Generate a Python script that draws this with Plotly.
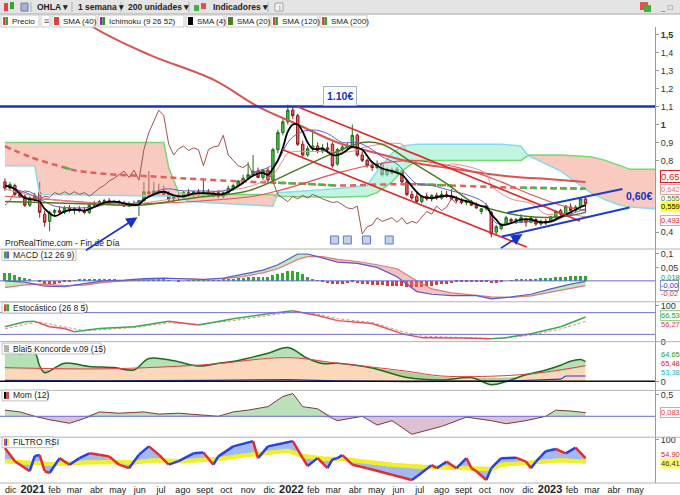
import pandas as pd
import plotly.graph_objects as go
from plotly.subplots import make_subplots

# ---------------- data ----------------
first_week = "2020-11-23"
x_start, x_end = "2020-11-16", "2023-05-29"

op = [0.68,0.645,0.66,0.61,0.60,0.55,0.59,0.62,0.50,0.46,
      0.51,0.52,0.51,0.535,0.52,0.53,0.52,0.51,0.55,0.565,
      0.57,0.575,0.565,0.57,0.56,0.545,0.56,0.55,0.575,0.625,
      0.615,0.63,0.625,0.61,0.585,0.60,0.595,0.62,0.61,0.625,
      0.61,0.625,0.61,0.62,0.60,0.62,0.645,0.66,0.685,0.70,
      0.72,0.74,0.705,0.745,0.69,0.86,0.955,1.015,1.08,1.05,
      0.89,0.83,0.865,0.88,0.855,0.87,0.89,0.78,0.86,0.875,
      0.88,0.94,0.83,0.80,0.77,0.76,0.78,0.72,0.745,0.73,
      0.74,0.68,0.61,0.60,0.57,0.60,0.585,0.605,0.59,0.61,
      0.60,0.585,0.575,0.565,0.57,0.55,0.515,0.53,0.51,0.40,
      0.42,0.445,0.47,0.46,0.455,0.47,0.455,0.47,0.445,0.46,
      0.46,0.48,0.52,0.50,0.54,0.52,0.54,0.585]
hi = [0.70,0.68,0.67,0.63,0.61,0.60,0.62,0.68,0.52,0.52,
      0.53,0.545,0.545,0.55,0.54,0.545,0.54,0.56,0.575,0.58,
      0.585,0.59,0.58,0.58,0.575,0.57,0.575,0.58,0.68,0.74,
      0.68,0.67,0.66,0.63,0.61,0.62,0.63,0.64,0.63,0.64,
      0.69,0.64,0.63,0.635,0.625,0.66,0.67,0.69,0.72,0.79,
      0.83,0.76,0.75,0.76,0.87,0.97,1.03,1.11,1.10,1.06,
      0.91,0.88,0.97,0.90,0.89,0.90,0.90,0.87,0.89,0.90,
      1.00,0.95,0.85,0.81,0.79,0.80,0.79,0.76,0.76,0.765,
      0.75,0.69,0.63,0.62,0.605,0.62,0.61,0.62,0.63,0.63,
      0.64,0.60,0.59,0.58,0.58,0.565,0.535,0.56,0.52,0.44,
      0.45,0.49,0.48,0.48,0.50,0.48,0.485,0.48,0.47,0.475,
      0.49,0.52,0.53,0.55,0.56,0.55,0.59,0.60]
lo = [0.63,0.63,0.60,0.59,0.54,0.54,0.57,0.48,0.43,0.405,
      0.49,0.50,0.50,0.51,0.50,0.51,0.50,0.50,0.54,0.55,
      0.555,0.56,0.55,0.55,0.54,0.54,0.545,0.49,0.57,0.60,
      0.60,0.61,0.60,0.57,0.57,0.58,0.59,0.60,0.595,0.60,
      0.60,0.60,0.595,0.59,0.59,0.61,0.63,0.65,0.68,0.69,
      0.71,0.70,0.69,0.67,0.68,0.84,0.94,1.00,1.03,0.88,
      0.82,0.82,0.85,0.84,0.84,0.84,0.76,0.77,0.85,0.86,
      0.87,0.82,0.79,0.76,0.74,0.75,0.71,0.71,0.72,0.72,
      0.67,0.60,0.58,0.56,0.56,0.575,0.57,0.58,0.58,0.59,
      0.58,0.565,0.555,0.55,0.545,0.53,0.50,0.52,0.37,0.38,
      0.41,0.44,0.445,0.445,0.45,0.43,0.45,0.435,0.435,0.44,
      0.455,0.475,0.49,0.49,0.51,0.51,0.53,0.51]
cl = [0.645,0.665,0.61,0.60,0.55,0.59,0.60,0.51,0.455,0.51,
      0.52,0.51,0.535,0.52,0.53,0.52,0.51,0.55,0.565,0.57,
      0.575,0.565,0.57,0.56,0.545,0.56,0.55,0.575,0.625,0.615,
      0.63,0.625,0.61,0.585,0.60,0.595,0.62,0.61,0.625,0.61,
      0.625,0.61,0.62,0.60,0.62,0.645,0.66,0.685,0.70,0.72,
      0.74,0.705,0.745,0.69,0.86,0.955,1.015,1.08,1.05,0.89,
      0.83,0.865,0.88,0.855,0.87,0.86,0.77,0.86,0.875,0.88,
      0.94,0.83,0.80,0.77,0.76,0.78,0.72,0.745,0.73,0.75,
      0.68,0.61,0.59,0.57,0.60,0.585,0.605,0.59,0.61,0.60,
      0.585,0.575,0.565,0.57,0.55,0.535,0.53,0.545,0.39,0.43,
      0.44,0.48,0.46,0.47,0.48,0.455,0.48,0.445,0.46,0.45,
      0.485,0.515,0.50,0.545,0.52,0.54,0.585,0.558]

# Ichimoku cloud (week index, span A, span B)
cloud_w = [0,6,7,32,33,35,37,54,55,66,73,75,78,80,83,100,104,105,106,112,118,121,124,126,131]
span_a = [0.77,0.77,0.61,0.60,0.60,0.60,0.57,0.545,0.62,0.64,0.66,0.74,0.84,0.88,0.89,0.89,0.88,0.84,0.82,0.74,0.62,0.58,0.55,0.54,0.53]
span_b = [0.90,0.90,0.90,0.90,0.76,0.62,0.61,0.61,0.60,0.595,0.60,0.62,0.68,0.74,0.80,0.80,0.80,0.82,0.83,0.83,0.82,0.80,0.77,0.75,0.75]
tenkan_w = [0,6,8,10,14,18,22,26,28,32,36,40,44,48,50,53,55,57,59,62,65,68,71,74,76,79,81,83,86,90,94,97,99,102,106,110,113,116,117]
tenkan_v = [0.66,0.60,0.57,0.545,0.535,0.54,0.565,0.56,0.585,0.64,0.63,0.63,0.63,0.67,0.73,0.76,0.80,0.90,0.95,0.97,0.95,0.90,0.90,0.86,0.82,0.78,0.72,0.67,0.66,0.63,0.60,0.555,0.45,0.45,0.46,0.455,0.49,0.52,0.53]
kijun_w = [0,10,20,27,30,40,50,54,56,57,62,70,72,76,80,81,83,85,88,90,97,98,102,106,109,112,117]
kijun_v = [0.64,0.58,0.56,0.56,0.57,0.615,0.66,0.72,0.80,0.84,0.85,0.85,0.87,0.89,0.89,0.855,0.835,0.81,0.765,0.78,0.725,0.66,0.585,0.56,0.50,0.505,0.485]
chikou_shift = 26

sma4_w = [0,2,4,6,7,8,10,12,14,16,18,20,22,24,26,27,28,30,32,34,36,38,40,42,44,46,48,50,52,53,54,55,56,57,58,59,60,61,62,64,66,67,68,70,71,72,74,76,78,80,81,82,84,86,88,90,92,94,96,97,98,99,100,102,104,106,108,110,112,114,116,117]
sma4_v = [0.66,0.64,0.59,0.58,0.57,0.53,0.49,0.515,0.525,0.52,0.54,0.565,0.57,0.56,0.55,0.555,0.58,0.61,0.625,0.605,0.60,0.615,0.617,0.614,0.612,0.64,0.675,0.715,0.73,0.72,0.755,0.80,0.87,0.96,1.00,1.00,0.96,0.90,0.865,0.865,0.83,0.83,0.84,0.875,0.87,0.86,0.79,0.755,0.74,0.72,0.69,0.655,0.60,0.59,0.60,0.60,0.58,0.565,0.545,0.54,0.50,0.47,0.44,0.45,0.47,0.47,0.455,0.46,0.485,0.51,0.54,0.55]
sma20_w = [0,19,27,39,49,59,67,72,76,82,89,94,99,106,112,117]
sma20_v = [0.57,0.555,0.55,0.595,0.63,0.75,0.85,0.90,0.89,0.79,0.67,0.57,0.52,0.485,0.485,0.51]
sma40_w = [0,10,20,30,40,50,55,60,67,75,82,88,94,100,106,112,117]
sma40_v = [0.60,0.58,0.56,0.56,0.575,0.60,0.63,0.67,0.73,0.78,0.80,0.78,0.74,0.68,0.61,0.55,0.52]
sma120_w = [8,18,29,42,51,59,67,75,82,90,102,110,117]
sma120_v = [1.75,1.54,1.39,1.25,1.10,1.00,0.90,0.84,0.79,0.755,0.71,0.695,0.68]
sma200_w = [0,5,12,14,20,30,39,50,55,60,67,75,83,90,100,104,110,117]
sma200_v = [0.88,0.82,0.76,0.745,0.725,0.71,0.695,0.68,0.675,0.67,0.66,0.665,0.667,0.66,0.65,0.648,0.645,0.642]
sma200_rising = [(12,14),(55,67),(83,90),(104,117)]

# drawn objects
resistance = 1.10
red_upper = (["2022-01-09","2023-02-12"], [1.10, 0.462])
red_lower = (["2021-12-19","2022-11-29"], [0.861, 0.317])
blue_upper = (["2022-11-02","2023-04-13"], [0.508, 0.640])
blue_lower = (["2022-10-25","2023-04-23"], [0.375, 0.537])
event_dates = ["2022-03-03","2022-03-21","2022-04-17","2022-05-19"]

# MACD
macd_w = [0,4,8,12,16,20,24,28,32,36,40,44,48,52,55,58,59,61,64,67,71,75,79,83,86,90,95,98,102,106,110,114,117]
macd_v = [0.0,-0.005,-0.02,-0.022,-0.01,0.0,0.003,0.008,0.01,0.008,0.005,0.01,0.025,0.04,0.06,0.09,0.1,0.1,0.085,0.07,0.065,0.05,0.015,-0.04,-0.05,-0.055,-0.055,-0.067,-0.06,-0.05,-0.03,-0.012,-0.002]
signal_v = [-0.025,-0.015,-0.012,-0.018,-0.016,-0.006,0.0,0.005,0.008,0.008,0.006,0.008,0.016,0.03,0.045,0.07,0.08,0.09,0.09,0.08,0.072,0.06,0.045,0.0,-0.03,-0.045,-0.055,-0.06,-0.062,-0.056,-0.042,-0.028,-0.018]
hist = [0.030,0.028,0.022,0.016,0.010,0.006,0.000,-0.006,-0.010,-0.012,
        -0.010,-0.008,-0.006,-0.004,0.002,0.004,0.004,0.006,0.007,0.007,
        0.006,0.005,0.004,0.003,0.002,0.002,0.003,0.005,0.008,0.008,
        0.007,0.006,0.004,0.002,0.000,-0.001,0.000,0.001,0.002,0.002,
        0.002,0.001,0.001,0.002,0.004,0.006,0.008,0.010,0.012,0.014,
        0.016,0.015,0.015,0.016,0.020,0.025,0.030,0.035,0.037,0.033,
        0.025,0.015,0.008,0.002,-0.004,-0.008,-0.012,-0.012,-0.010,-0.008,
        -0.006,-0.008,-0.010,-0.012,-0.014,-0.016,-0.017,-0.018,-0.018,-0.018,
        -0.019,-0.022,-0.024,-0.024,-0.022,-0.020,-0.018,-0.015,-0.012,-0.010,
        -0.008,-0.005,-0.003,-0.002,-0.002,-0.003,-0.004,-0.006,-0.008,-0.007,
        -0.004,0.000,0.003,0.005,0.006,0.007,0.007,0.008,0.009,0.010,
        0.012,0.014,0.015,0.016,0.017,0.018,0.018,0.018]

# Stochastic
stk_w = [0,4,6,9,12,14,19,26,33,39,46,53,58,63,67,74,80,84,92,98,101,106,112,117]
stk_v = [41,55,56,41,36,27,36,41,56,46,63,77,85,72,58,50,22,11,10,8,11,22,41,68]
std_w = [0,4,7,10,13,16,20,26,33,39,46,53,58,63,67,74,80,84,92,98,101,106,112,117]
std_v = [35,48,54,47,38,30,33,39,52,48,58,73,82,76,63,53,28,15,11,9,10,18,35,56]

# Koncorde
kv_w = [0,3,6,7,8,12,17,22,26,29,34,39,43,47,53,57,61,64,67,74,81,88,94,98,101,105,109,112,114,116,117]
kv_v = [75,70,71,39,22,46,38,35,29,58,52,39,46,53,71,85,58,45,46,34,10,4,10,-8,0,17,29,41,51,55,50]
km_w = [0,20,40,57,67,81,88,101,109,117]
km_v = [35,32,42,60,46,26,14,15,24,40]
kb_v = [30,30,40,62,44,24,12,10,20,36]
ka_w = [0,20,40,57,67,81,100,112,113,117]
ka_v = [3,2,3,5,2,0,1,6,14,14]

# Momentum
mom_w = [0,3,6,9,13,16,19,23,28,31,35,39,43,46,49,53,56,58,60,63,66,67,72,75,78,82,88,93,98,101,105,109,111,114,117]
mom_v = [0.14,0.10,0.0,-0.08,-0.16,-0.05,0.10,0.07,0.10,0.05,0.07,0.03,0.0,0.10,0.14,0.22,0.45,0.52,0.22,0.17,-0.05,-0.10,0.0,-0.20,-0.10,-0.41,-0.23,-0.02,-0.10,-0.17,-0.10,0.0,0.14,0.12,0.083]

# Filtro RSI
rsi_w = [0,2,5,6,7,8,9,11,13,15,17,19,21,23,25,27,29,31,33,35,38,40,42,43,46,50,51,53,56,58,60,61,63,65,66,67,68,70,73,78,82,83,86,87,89,91,93,94,95,97,98,100,103,105,106,107,108,109,111,113,115,117]
rsi_v = [80,50,27,62,64,27,23,57,42,57,68,65,61,42,34,65,84,65,42,50,68,70,42,61,84,96,57,84,91,96,57,39,57,34,54,57,64,42,34,19,7,15,41,34,49,34,57,34,27,7,34,57,58,49,34,49,61,73,78,68,81,57]
ry_w = [0,6,10,16,20,26,30,36,40,44,48,53,57,60,64,68,72,78,84,90,95,98,100,104,108,112,116,117]
ry_v = [50,46,43,47,48,47,52,50,53,56,63,70,74,62,56,55,50,42,37,36,33,32,42,45,48,52,50,48]

month_ticks = list(pd.date_range("2020-12-01", "2023-05-01", freq="MS"))
month_text = ["dic","2021","feb","mar","abr","may","jun","jul","ago","sept","oct","nov",
              "dic","2022","feb","mar","abr","may","jun","jul","ago","sept","oct","nov",
              "dic","2023","feb","mar","abr","may"]

# ---------------- helpers ----------------
def wk(i):
    return pd.Timestamp(first_week) + pd.Timedelta(days=7 * i)

def wks(lst):
    return [wk(i) for i in lst]

def xp(px):
    return px / 655.0

def yp(py):
    return (485.0 - py) / 458.0

def slope_split(xs, ys):
    ux, uy, dx, dy = [], [], [], []
    for i in range(len(xs) - 1):
        if ys[i + 1] >= ys[i]:
            ux += [xs[i], xs[i + 1], None]; uy += [ys[i], ys[i + 1], None]
        else:
            dx += [xs[i], xs[i + 1], None]; dy += [ys[i], ys[i + 1], None]
    return ux, uy, dx, dy

FONT = "Liberation Sans, Arial, sans-serif"
weeks = wks(range(len(cl)))

fig = make_subplots(rows=6, cols=1, shared_xaxes=True, vertical_spacing=0)

def line(x, y, color, width=1, row=1, dash=None, shape="spline", **kw):
    fig.add_trace(go.Scatter(x=x, y=y, mode="lines", hoverinfo="skip",
                             line=dict(color=color, width=width, dash=dash, shape=shape), **kw),
                  row=row, col=1)

# ---- main panel ----
cx = wks(cloud_w)
cmax = [max(a, b) for a, b in zip(span_a, span_b)]
line(cx, span_b, "rgba(0,0,0,0)", 0, shape="linear")
line(cx, cmax, "rgba(0,0,0,0)", 0, shape="linear", fill="tonexty", fillcolor="rgba(140,238,200,0.55)")
line(cx, span_a, "rgba(0,0,0,0)", 0, shape="linear")
line(cx, cmax, "rgba(0,0,0,0)", 0, shape="linear", fill="tonexty", fillcolor="rgba(244,150,128,0.5)")
line(cx, span_a, "#86dcec", 1.5, shape="linear")
line(cx, span_b, "#74d874", 1.5, shape="linear")

line(wks(sma200_w), sma200_v, "#e0605a", 2.5, dash="6px,4px")
for a, b in sma200_rising:
    idx = [k for k, w in enumerate(sma200_w) if a <= w <= b]
    line(wks([sma200_w[k] for k in idx]), [sma200_v[k] for k in idx], "#3cbf4c", 2.5, dash="6px,4px")
line(wks(sma120_w), sma120_v, "#d9534f", 2)
line(wks(sma40_w), sma40_v, "#e85050", 1.2)
line(wks(kijun_w), kijun_v, "#f08a8a", 1)
line(weeks[:len(cl) - chikou_shift], cl[chikou_shift:], "#a0524d", 1, shape="linear")
line(wks(tenkan_w), tenkan_v, "#6a5acd", 1)
line(wks(sma20_w), sma20_v, "#4f7a1e", 1.5)

fig.add_trace(go.Candlestick(x=weeks, open=op, high=hi, low=lo, close=cl, hoverinfo="skip",
                             increasing=dict(line=dict(color="#1f6e1f", width=1), fillcolor="#4cc04c"),
                             decreasing=dict(line=dict(color="#8a1c1c", width=1), fillcolor="#e46464"),
                             whiskerwidth=0), row=1, col=1)
line(wks(sma4_w), sma4_v, "#000000", 1.8)

fig.add_trace(go.Scatter(x=event_dates, y=[0.356] * len(event_dates), mode="markers", hoverinfo="skip",
                         marker=dict(symbol="square", size=8, color="#c3d1ee", line=dict(color="#5d7cc4", width=1))),
              row=1, col=1)

# ---- MACD ----
mx = wks(macd_w)
mhi = [max(a, b) for a, b in zip(macd_v, signal_v)]
line(mx, signal_v, "rgba(0,0,0,0)", 0, row=2, shape="linear")
line(mx, mhi, "rgba(0,0,0,0)", 0, row=2, shape="linear", fill="tonexty", fillcolor="rgba(110,205,110,0.45)")
line(mx, macd_v, "rgba(0,0,0,0)", 0, row=2, shape="linear")
line(mx, mhi, "rgba(0,0,0,0)", 0, row=2, shape="linear", fill="tonexty", fillcolor="rgba(232,120,120,0.45)")
fig.add_trace(go.Bar(x=weeks, y=hist, width=4.2 * 86400000, hoverinfo="skip",
                     marker=dict(color=["#2fa82f" if v >= 0 else "#e03a3a" for v in hist], line=dict(width=0))),
              row=2, col=1)
line(mx, signal_v, "#e07a7a", 1.2, row=2, shape="linear")
line(mx, macd_v, "#5a5ad0", 1.2, row=2, shape="linear")

# ---- Stochastic ----
line(wks(std_w), std_v, "#e08a8a", 1, row=3, dash="3px,2px", shape="linear")
ux, uy, dx_, dy_ = slope_split(wks(stk_w), stk_v)
line(ux, uy, "#3caa50", 1.5, row=3, shape="linear")
line(dx_, dy_, "#e05050", 1.5, row=3, shape="linear")

# ---- Koncorde ----
line(wks(km_w), kb_v, "rgba(0,0,0,0)", 0, row=4, fill="tozeroy", fillcolor="rgba(250,200,160,0.7)")
line(wks(kv_w), kv_v, "#1e6a1e", 1.5, row=4, fill="tonexty", fillcolor="rgba(120,200,120,0.55)")
line(wks(km_w), km_v, "#e04040", 1, row=4)
line(wks(ka_w), ka_v, "#2040d0", 1.2, row=4, shape="linear")

# ---- Momentum ----
mmx = wks(mom_w)
line(mmx, [max(v, 0) for v in mom_v], "rgba(0,0,0,0)", 0, row=5, shape="linear", fill="tozeroy", fillcolor="rgba(130,200,130,0.55)")
line(mmx, [min(v, 0) for v in mom_v], "rgba(0,0,0,0)", 0, row=5, shape="linear", fill="tozeroy", fillcolor="rgba(190,130,170,0.5)")
line(mmx, mom_v, "#7a3a3a", 1, row=5, shape="linear")

# ---- Filtro RSI ----
line(wks(ry_w), ry_v, "#f2ee2a", 4, row=6, shape="linear")
line(wks(rsi_w), rsi_v, "rgba(0,0,0,0)", 0, row=6, shape="linear", fill="tonexty", fillcolor="rgba(100,140,230,0.6)")
line(wks(ry_w), ry_v, "#f2ee2a", 4, row=6, shape="linear")
ux, uy, dx_, dy_ = slope_split(wks(rsi_w), rsi_v)
line(ux, uy, "#2a40e0", 2.5, row=6, shape="linear")
line(dx_, dy_, "#e82a2a", 2.5, row=6, shape="linear")

# ---------------- layout ----------------
fig.update_layout(width=680, height=495, margin=dict(l=0, r=25, t=27, b=10),
                  paper_bgcolor="white", plot_bgcolor="white", showlegend=False,
                  font=dict(family=FONT, size=9, color="#222"), bargap=0)
fig.update_xaxes(range=[x_start, x_end], showgrid=False, zeroline=False, showticklabels=False,
                 rangeslider_visible=False, showline=False, ticks="")
fig.update_xaxes(row=6, col=1, showticklabels=True, tickvals=month_ticks,
                 ticktext=[("<b><span style='font-size:11px'>%s</span></b>" % t if t.isdigit() else t) for t in month_text],
                 tickfont=dict(size=9, color="#222"))

yaxis_common = dict(side="right", showgrid=False, zeroline=False, showline=True, linecolor="#9a9a9a",
                    ticks="outside", ticklen=3, tickcolor="#9a9a9a", tickfont=dict(size=9, color="#333"))
bounds = [27, 250, 303, 343, 392, 439, 485]
ranges = [[0.3056, 1.544], [-0.078, 0.1185], [0, 110], [-22, 100], [-0.477, 0.59], [0, 105]]
ticks = [([1.5, 1.4, 1.3, 1.2, 1.1, 1.0, 0.9, 0.8, 0.4],
          ["<b>1,5</b>", "1,4", "1,3", "1,2", "1,1", "<b>1</b>", "0,9", "0,8", "0,4"]),
         ([0.1, 0.05], ["0,1", "0,05"]), ([100, 0], ["100", "0"]), ([0], ["0"]),
         ([0.5], ["0,5"]), ([100], ["100"])]
for r in range(6):
    fig.update_yaxes(row=r + 1, col=1, domain=[yp(bounds[r + 1]), yp(bounds[r])], range=ranges[r],
                     tickvals=ticks[r][0], ticktext=ticks[r][1], **yaxis_common)

shapes = []
def hline(yref, y, color, width=1):
    shapes.append(dict(type="line", xref="paper", yref=yref, x0=0, x1=1, y0=y, y1=y,
                       line=dict(color=color, width=width), layer="above"))
hline("y2", 0, "#6a6ad0")
hline("y3", 80, "#7070d0"); hline("y3", 20, "#7070d0")
hline("y4", 1, "#111111", 1.5)
hline("y5", 0, "#6a6ad0")
shapes.append(dict(type="line", xref="x", yref="y", x0=x_start, x1=x_end, y0=resistance, y1=resistance,
                   line=dict(color="#1433c8", width=2.5)))
for (xs, ys), col in [(red_upper, "#e02828"), (red_lower, "#e02828"), (blue_upper, "#1a3ccc"), (blue_lower, "#1a3ccc")]:
    shapes.append(dict(type="line", xref="x", yref="y", x0=xs[0], x1=xs[1], y0=ys[0], y1=ys[1],
                       line=dict(color=col, width=2 if col == "#1a3ccc" else 1.6)))
for b in bounds[1:]:
    shapes.append(dict(type="line", xref="paper", yref="paper", x0=0, x1=xp(682), y0=yp(b), y1=yp(b),
                       line=dict(color="#b4b4b4", width=1)))
# toolbar
shapes.append(dict(type="rect", xref="paper", yref="paper", x0=xp(-2), x1=xp(682), y0=yp(14), y1=yp(-2),
                   fillcolor="#e4e4e4", line=dict(width=0), layer="below"))
shapes.append(dict(type="line", xref="paper", yref="paper", x0=xp(-2), x1=xp(682), y0=yp(14), y1=yp(14),
                   line=dict(color="#a8a8a8", width=1)))
for sx in [31, 72, 121, 189, 268]:
    shapes.append(dict(type="line", xref="paper", yref="paper", x0=xp(sx), x1=xp(sx), y0=yp(12), y1=yp(2),
                       line=dict(color="#b0b0b0", width=1)))
def rect(x0, x1, y0, y1, fill, line_c=None):
    shapes.append(dict(type="rect", xref="paper", yref="paper", x0=xp(x0), x1=xp(x1), y0=yp(y1), y1=yp(y0),
                       fillcolor=fill, line=dict(color=line_c or fill, width=1 if line_c else 0)))
rect(4, 8, 3, 11, "#e04040"); rect(10, 14, 2, 9, "#30a830")
rect(21, 28, 3, 11, "#9fb4d8", "#6a7fa8")
rect(194, 199, 5, 11, "#40b040"); rect(201, 206, 3, 9, "#e05050")
rect(275, 283, 3, 11, "#f4f4f4", "#a0a0a0")
rect(640, 648, 2, 10, "#e05050"); rect(644, 651, 5, 12, "#40b040")

annotations = []
def text(px, py, s, size=8, color="#222", bold=False, anchor="left", **kw):
    annotations.append(dict(xref="paper", yref="paper", x=xp(px), y=yp(py), text=("<b>%s</b>" % s if bold else s),
                            showarrow=False, xanchor=anchor, yanchor="middle",
                            font=dict(family=FONT, size=size, color=color), **kw))
text(35, 7, "OHLA ▾", 8.5, bold=True)
text(76, 7, "1 semana ▾", 8.5, bold=True)
text(126, 7, "200 unidades ▾", 8.5, bold=True)
text(211, 7, "Indicadores ▾", 8.5, bold=True)
text(277, 7, "i", 7, color="#666")
text(658, 7, "_ □", 8, color="#555")

# legend row
legend_items = [(1, 39, ["#e04040", "#30a830"], "Precio"), (52, 96, ["#e04040"], "SMA (40)"),
                (98, 184, ["#a020a0", "#20a020"], "Ichimoku (9 26 52)"), (186, 224, ["#000000"], "SMA (4)"),
                (226, 269, ["#4f7a1e"], "SMA (20)"), (271, 318, ["#e04040", "#30a830"], "SMA (120)"),
                (320, 367, ["#e04040", "#30a830"], "SMA (200)")]
for x0, x1, cols, label in legend_items:
    rect(x0, x1, 15, 27, "rgba(255,255,255,0)", "#c8c8c8")
    w = 5.0 / len(cols)
    for k, c in enumerate(cols):
        rect(x0 + 2 + k * w, x0 + 2 + (k + 1) * w, 17, 25, c)
    text(x0 + 9, 21, label, 8)
rect(41, 50, 15, 27, "rgba(255,255,255,0)", "#c8c8c8")
text(42, 21, "≡", 9, color="#555")

# panel titles
panel_titles = [(256, 76, ["#30a830", "#6a4ad0"], "MACD (12 26 9)"),
                (309, 84, ["#e04040", "#30a830"], "Estocástico (26 8 5)"),
                (350, 101, ["#b0b0b0"], "Blai5 Koncorde v.09 (15)"),
                (397, 48, ["#000000", "#e04040"], "Mom (12)"),
                (444, 53, ["#e04040", "#2a40e0", "#f2ee2a"], "FILTRO RSI")]
for py, x1, cols, label in panel_titles:
    rect(2, x1, py - 5.5, py + 5.5, "rgba(255,255,255,0.85)", "#c0c0c0")
    w = 5.0 / len(cols)
    for k, c in enumerate(cols):
        rect(4 + k * w, 4 + (k + 1) * w, py - 3.5, py + 3.5, c)
    text(11, py, label, 8.5)

text(3, 244, "ProRealTime.com - Fin de Día", 8.5, color="#222")
annotations.append(dict(xref="x", yref="y", x="2022-03-10", y=1.161, text="<b>1.10€</b>", showarrow=False,
                        font=dict(family=FONT, size=10.5, color="#1433c8"), bordercolor="#9fb4d8",
                        borderwidth=1, borderpad=3, bgcolor="white"))
annotations.append(dict(xref="x", yref="y", x="2023-05-07", y=0.60, text="<b>0,60€</b>", showarrow=False,
                        font=dict(family=FONT, size=10.5, color="#1433c8")))
annotations.append(dict(xref="x", yref="y", x="2021-05-29", y=0.483, ax=-53, ay=34, text="", showarrow=True,
                        arrowhead=2, arrowsize=1.4, arrowwidth=1.6, arrowcolor="#1433c8"))
annotations.append(dict(xref="x", yref="y", x="2022-11-23", y=0.389, ax=-23, ay=15, text="", showarrow=True,
                        arrowhead=2, arrowsize=1.4, arrowwidth=1.6, arrowcolor="#1433c8"))

# right-side value labels
value_labels = [(177, "0,65", "#e02020", None, "#e02020", 9.5),
                (190, "0,642", "#e07070", None, "#e8a0a0", 7.5),
                (199, "0,555", "#5a7a20", None, None, 7.5),
                (207, "0,559", "#000000", "#ffff30", None, 7.5),
                (221, "0,493", "#e02020", None, "#e8a0a0", 7.5),
                (279, "0,018", "#20a020", None, None, 7.5),
                (287, "-0,00", "#2040c0", None, "#8090d0", 7.5),
                (295, "-0,02", "#e03030", None, None, 7.5),
                (317, "66,53", "#20a020", None, "#90d090", 7.5),
                (326, "56,27", "#e04040", None, None, 7.5),
                (356, "64,65", "#20a020", None, None, 7.5),
                (365, "65,48", "#e02020", None, None, 7.5),
                (374, "53,38", "#20b0c0", None, None, 7.5),
                (414, "0,083", "#e04040", None, "#e8a0a0", 7.5),
                (456, "54,90", "#e02020", None, None, 7.5),
                (465, "46,41", "#333333", "#ffff60", None, 7.5)]
for py, s, c, bg, bc, sz in value_labels:
    kw = {}
    if bg:
        kw["bgcolor"] = bg
    if bc:
        kw["bordercolor"] = bc; kw["borderwidth"] = 1
    kw["borderpad"] = 0
    text(660, py, s, sz, color=c, **kw)

fig.update_layout(shapes=shapes, annotations=annotations)
fig.write_html("out.html", config={"displayModeBar": False},
               post_script="document.body.style.margin='0';document.body.style.overflow='hidden';")
